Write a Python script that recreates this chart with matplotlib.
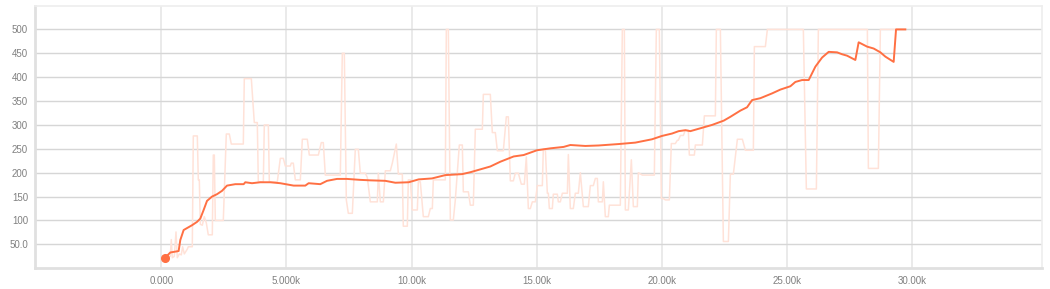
import matplotlib
matplotlib.use("Agg")
import matplotlib.pyplot as plt
from matplotlib.ticker import FixedLocator, FixedFormatter

# Raw (unsmoothed) series: steps and values
raw_steps = [120, 359, 399, 439, 519, 587, 639, 719, 799, 851, 919, 1038, 1078, 1238, 1278, 1438, 1478, 1518,
             1558, 1638, 1717, 1797, 1877, 2037, 2077, 2117, 2157, 2476, 2596, 2716, 2796, 3275, 3315, 3595,
             3714, 3834, 3874, 4074, 4114, 4274, 4314, 4633, 4753, 4873, 4953, 5152, 5192, 5272, 5352, 5552,
             5632, 5831, 5911, 6271, 6390, 6470, 6550, 7149, 7229, 7309, 7389, 7469, 7629, 7748, 7868, 7948,
             8148, 8228, 8347, 8627, 8667, 8747, 8867, 8947, 9146, 9226, 9386, 9466, 9626, 9665, 9825, 9865,
             9945, 10025, 10225, 10265, 10344, 10464, 10664, 10744, 10824, 10864, 11343, 11383, 11463, 11543,
             11662, 11742, 11902, 12022, 12062, 12262, 12341, 12461, 12541, 12821, 12861, 13140, 13220, 13340,
             13420, 13660, 13779, 13859, 13939, 14059, 14139, 14259, 14378, 14498, 14578, 14658, 14738, 14818,
             14938, 15017, 15217, 15257, 15337, 15417, 15457, 15497, 15616, 15656, 15816, 15856, 15936, 16016,
             16216, 16256, 16335, 16455, 16535, 16655, 16735, 16855, 17054, 17134, 17254, 17334, 17414, 17454,
             17614, 17654, 17733, 17853, 17893, 18332, 18412, 18492, 18532, 18652, 18772, 18852, 19011, 19051,
             19211, 19690, 19770, 19890, 19970, 20050, 20130, 20290, 20369, 20529, 20609, 20649, 20729, 20849,
             20929, 21048, 21088, 21288, 21328, 21608, 21688, 22127, 22167, 22327, 22447, 22647, 22726, 22846,
             23006, 23206, 23326, 23645, 23685, 24124, 24204, 25641, 25761, 26161, 26241, 28198, 28238, 28637,
             28717, 29715]
raw_values = [21, 25, 60, 22, 25, 76, 22, 30, 28, 45, 30, 40, 45, 45, 277, 277, 185, 185,
              92, 90, 108, 95, 70, 70, 237, 237, 100, 100, 281, 281, 260, 260, 397, 397,
              305, 305, 181, 181, 300, 300, 181, 181, 230, 230, 214, 214, 220, 220, 185, 185,
              270, 270, 237, 237, 263, 263, 195, 195, 450, 450, 143, 115, 115, 249, 249, 199,
              199, 190, 139, 139, 199, 139, 139, 204, 204, 220, 260, 197, 197, 88, 88, 185,
              185, 122, 122, 181, 181, 108, 108, 125, 125, 185, 185, 500, 500, 101,
              101, 143, 258, 258, 160, 160, 132, 132, 291, 291, 364, 364, 284, 284,
              246, 246, 317, 317, 183, 183, 199, 199, 176, 176, 233, 125, 125, 139,
              139, 173, 173, 250, 250, 157, 157, 125, 125, 155, 155, 139, 139, 157,
              157, 238, 125, 125, 157, 157, 200, 129, 129, 173, 173, 188, 188, 139,
              139, 181, 108, 108, 132, 132, 500, 500, 122, 122, 227, 129, 129, 200,
              195, 195, 500, 500, 146, 146, 143, 143, 261, 261, 268, 268, 278, 278,
              289, 289, 237, 237, 258, 258, 319, 319, 500, 500, 56, 56, 197, 197,
              270, 270, 247, 247, 464, 464, 500, 500, 166, 166, 500, 500, 209, 209,
              500, 500]

# Smoothed series: steps and values
smooth_steps = [132, 360, 692, 759, 892, 1092, 1225, 1425, 1558, 1691, 1825, 2025, 2224, 2424, 2624, 2956,
                3289, 3355, 3622, 3954, 4353, 4753, 5284, 5751, 5884, 6350, 6617, 7017, 7416, 7948, 8347,
                8946, 9346, 9878, 10277, 10810, 11343, 12009, 12341, 12741, 13140, 13540, 14071, 14471,
                15004, 15536, 16068, 16335, 16934, 17466, 18265, 18932, 19598, 19998, 20397, 20663, 20929,
                21128, 21528, 21994, 22461, 22726, 23126, 23393, 23593, 23924, 24391, 24723, 25123, 25322,
                25589, 25855, 26121, 26388, 26653, 26988, 27187, 27387, 27718, 27850, 28185, 28449, 28717,
                28917, 29248, 29343, 29714]
smooth_values = [21, 33, 36, 59, 80, 86, 90, 97, 104, 122, 141, 150, 155, 162, 173, 176,
                 176, 180, 178, 180, 180, 178, 173, 173, 178, 176, 183, 187, 187, 185, 184,
                 183, 179, 180, 186, 188, 195, 197, 201, 207, 213, 223, 234, 237,
                 247, 251, 254, 258, 256, 257, 260, 263, 270, 277, 282, 287, 289,
                 287, 293, 300, 309, 317, 330, 337, 352, 356, 366, 374, 381, 390,
                 394, 394, 422, 441, 453, 452, 448, 445, 436, 473, 464, 460, 452,
                 443, 432, 500, 500]

y_ticks = [50, 100, 150, 200, 250, 300, 350, 400, 450, 500]
y_tick_labels = ["50.0", "100", "150", "200", "250", "300", "350", "400", "450", "500"]
x_ticks = [0, 5000, 10000, 15000, 20000, 25000, 30000]
x_tick_labels = ["0.000", "5.000k", "10.00k", "15.00k", "20.00k", "25.00k", "30.00k"]

plt.rcParams['font.family'] = ['Liberation Sans', 'DejaVu Sans']

fig = plt.figure(figsize=(10.5, 2.89), dpi=100)
ax = fig.add_axes([35 / 1050, 21 / 289, (1042 - 35) / 1050, (268 - 6) / 289])

line_color = "#ff7043"
ax.plot(raw_steps, raw_values, color="#ffe2d8", lw=1.1, zorder=2)
ax.plot(smooth_steps, smooth_values, color=line_color, lw=1.4, zorder=3)
ax.plot([smooth_steps[0]], [smooth_values[0]], 'o', color=line_color, ms=5.5, zorder=4)

ax.set_xlim(-5044, 35172)
ax.set_ylim(0.5, 549)

ax.yaxis.set_major_locator(FixedLocator(y_ticks))
ax.yaxis.set_major_formatter(FixedFormatter(y_tick_labels))
ax.xaxis.set_major_locator(FixedLocator(x_ticks))
ax.xaxis.set_major_formatter(FixedFormatter(x_tick_labels))

ax.grid(axis='y', color="#d6d6d6", lw=1.0, zorder=0)
ax.grid(axis='x', color="#e6e6e6", lw=1.2, zorder=0)
ax.set_axisbelow(True)

ax.tick_params(axis='both', length=0, labelsize=7, colors="#808080")
ax.tick_params(axis='y', pad=5)
ax.tick_params(axis='x', pad=6)

for side in ['top', 'right']:
    ax.spines[side].set_color("#eeeeee")
    ax.spines[side].set_linewidth(1.2)
for side in ['left', 'bottom']:
    ax.spines[side].set_color("#e0e0e0")
    ax.spines[side].set_linewidth(2.0)

fig.savefig("out.png", dpi=100)
